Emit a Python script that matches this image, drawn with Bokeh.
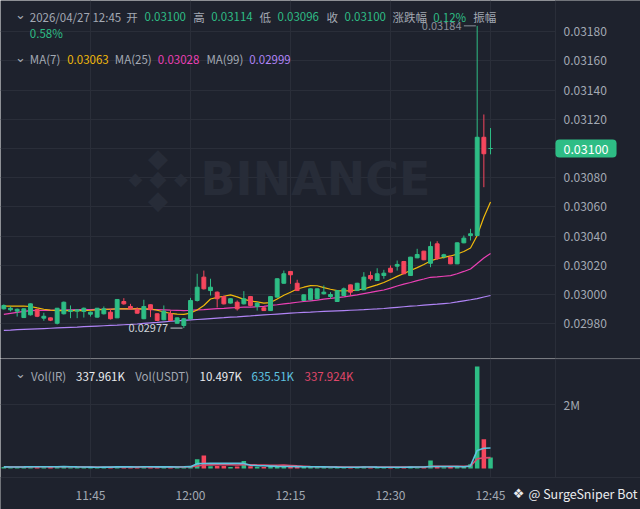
import pandas as pd
from bokeh.plotting import figure
from bokeh.layouts import column
from bokeh.models import ColumnDataSource, Range1d, FixedTicker, Label, Span, BoxAnnotation
from bokeh.embed import file_html
from bokeh.resources import INLINE
from bokeh.core.properties import value

# ---------------- data ----------------
times = [t.strftime("%H:%M") for t in pd.date_range("2026-04-27 11:32", periods=74, freq="min")]
date_str = "2026/04/27"
tick_labels = ["11:45", "12:00", "12:15", "12:30", "12:45"]
price_ticks = [0.0298, 0.0300, 0.0302, 0.0304, 0.0306, 0.0308, 0.0310, 0.0312, 0.0314, 0.0316, 0.0318]
vol_ticks = [2000]
vol_tick_labels = ["2M"]

opens = [0.029902, 0.029895, 0.029886, 0.029842, 0.029861, 0.029897, 0.029838, 0.029840, 0.029803, 0.029868,
         0.029884, 0.029886, 0.029884, 0.029865, 0.029845, 0.029868, 0.029879, 0.029840, 0.029952, 0.029918,
         0.029897, 0.029834, 0.029930, 0.029868, 0.029827, 0.029868, 0.029803, 0.029788, 0.029834, 0.029959,
         0.030119, 0.030027, 0.030016, 0.029986, 0.029941, 0.029947, 0.029936, 0.029986, 0.029918, 0.029909,
         0.029890, 0.029982, 0.030077, 0.030158, 0.030077, 0.029959, 0.029964, 0.029971, 0.030005, 0.029986,
         0.029952, 0.029993, 0.030066, 0.030027, 0.030032, 0.030130, 0.030096, 0.030130, 0.030180, 0.030194,
         0.030226, 0.030130, 0.030251, 0.030297, 0.030214, 0.030347, 0.030260, 0.030256, 0.030210, 0.030354,
         0.030404, 0.030404, 0.031077, 0.031000]
highs = [0.029932, 0.029918, 0.029904, 0.029904, 0.029938, 0.029901, 0.029875, 0.029842, 0.029908, 0.029952,
         0.029925, 0.029897, 0.029911, 0.029884, 0.029908, 0.029918, 0.029902, 0.029968, 0.029975, 0.029936,
         0.029913, 0.029964, 0.029932, 0.029870, 0.029925, 0.029890, 0.029842, 0.029840, 0.029977, 0.030142,
         0.030164, 0.030108, 0.030021, 0.029993, 0.029973, 0.029959, 0.030023, 0.029990, 0.029947, 0.029914,
         0.029990, 0.030110, 0.030164, 0.030161, 0.030101, 0.030000, 0.030041, 0.030041, 0.030062, 0.030016,
         0.030030, 0.030048, 0.030068, 0.030080, 0.030153, 0.030158, 0.030180, 0.030169, 0.030199, 0.030233,
         0.030230, 0.030258, 0.030313, 0.030299, 0.030363, 0.030365, 0.030279, 0.030258, 0.030356, 0.030404,
         0.030450, 0.031840, 0.031233, 0.031140]
lows = [0.029897, 0.029884, 0.029849, 0.029839, 0.029856, 0.029845, 0.029820, 0.029818, 0.029795, 0.029863,
        0.029838, 0.029838, 0.029842, 0.029849, 0.029842, 0.029863, 0.029829, 0.029839, 0.029930, 0.029899,
        0.029870, 0.029831, 0.029845, 0.029818, 0.029824, 0.029818, 0.029801, 0.029770, 0.029827, 0.029952,
        0.030034, 0.029993, 0.029911, 0.029932, 0.029938, 0.029890, 0.029932, 0.029918, 0.029890, 0.029887,
        0.029887, 0.029980, 0.030075, 0.030073, 0.030024, 0.029956, 0.029961, 0.029968, 0.030000, 0.029971,
        0.029950, 0.029990, 0.029993, 0.030024, 0.030030, 0.030096, 0.030093, 0.030108, 0.030151, 0.030164,
        0.030139, 0.030127, 0.030249, 0.030235, 0.030187, 0.030238, 0.030245, 0.030208, 0.030208, 0.030351,
        0.030370, 0.030402, 0.030735, 0.030960]
closes = [0.029925, 0.029906, 0.029899, 0.029902, 0.029936, 0.029851, 0.029851, 0.029824, 0.029906, 0.029947,
          0.029893, 0.029895, 0.029906, 0.029879, 0.029906, 0.029902, 0.029834, 0.029966, 0.029936, 0.029902,
          0.029872, 0.029918, 0.029897, 0.029822, 0.029886, 0.029822, 0.029840, 0.029834, 0.029959, 0.030050,
          0.030039, 0.030050, 0.029971, 0.029936, 0.029971, 0.029902, 0.029971, 0.029925, 0.029941, 0.029890,
          0.029986, 0.030108, 0.030142, 0.030135, 0.030027, 0.029998, 0.030039, 0.030039, 0.030016, 0.030000,
          0.030027, 0.030039, 0.030016, 0.030077, 0.030119, 0.030108, 0.030142, 0.030146, 0.030153, 0.030206,
          0.030142, 0.030256, 0.030274, 0.030238, 0.030329, 0.030245, 0.030272, 0.030210, 0.030354, 0.030386,
          0.030416, 0.031077, 0.030964, 0.031000]

ma7 = [0.029920, 0.029920, 0.029920, 0.029920, 0.029918, 0.029908, 0.029899, 0.029893, 0.029890, 0.029890,
       0.029890, 0.029890, 0.029890, 0.029892, 0.029895, 0.029898, 0.029899, 0.029901, 0.029901, 0.029902,
       0.029902, 0.029902, 0.029902, 0.029892, 0.029880, 0.029871, 0.029865, 0.029864, 0.029873, 0.029894,
       0.029925, 0.029969, 0.029980, 0.029988, 0.029997, 0.029984, 0.029967, 0.029956, 0.029949, 0.029941,
       0.029945, 0.029969, 0.029995, 0.030015, 0.030038, 0.030050, 0.030061, 0.030060, 0.030047, 0.030036,
       0.030027, 0.030024, 0.030027, 0.030031, 0.030038, 0.030052, 0.030066, 0.030082, 0.030103, 0.030124,
       0.030144, 0.030164, 0.030184, 0.030206, 0.030230, 0.030245, 0.030254, 0.030264, 0.030277, 0.030295,
       0.030319, 0.030404, 0.030529, 0.030634]
ma25 = [0.029864, 0.029871, 0.029878, 0.029884, 0.029890, 0.029891, 0.029892, 0.029892, 0.029894, 0.029895,
        0.029895, 0.029896, 0.029897, 0.029897, 0.029898, 0.029899, 0.029900, 0.029901, 0.029901, 0.029902,
        0.029901, 0.029899, 0.029897, 0.029896, 0.029895, 0.029893, 0.029892, 0.029890, 0.029892, 0.029895,
        0.029897, 0.029900, 0.029903, 0.029905, 0.029908, 0.029911, 0.029913, 0.029914, 0.029916, 0.029919,
        0.029925, 0.029930, 0.029936, 0.029941, 0.029947, 0.029952, 0.029957, 0.029962, 0.029968, 0.029973,
        0.029979, 0.029984, 0.029991, 0.029998, 0.030006, 0.030014, 0.030023, 0.030031, 0.030044, 0.030058,
        0.030071, 0.030082, 0.030095, 0.030106, 0.030118, 0.030121, 0.030125, 0.030129, 0.030142, 0.030158,
        0.030175, 0.030212, 0.030250, 0.030281]
ma99 = [0.029754, 0.029756, 0.029759, 0.029761, 0.029763, 0.029765, 0.029767, 0.029769, 0.029771, 0.029773,
        0.029775, 0.029777, 0.029780, 0.029782, 0.029784, 0.029786, 0.029788, 0.029790, 0.029793, 0.029795,
        0.029798, 0.029802, 0.029806, 0.029809, 0.029813, 0.029817, 0.029820, 0.029823, 0.029826, 0.029829,
        0.029832, 0.029835, 0.029838, 0.029841, 0.029845, 0.029847, 0.029850, 0.029853, 0.029857, 0.029860,
        0.029863, 0.029866, 0.029869, 0.029872, 0.029875, 0.029877, 0.029879, 0.029882, 0.029884, 0.029886,
        0.029888, 0.029890, 0.029892, 0.029894, 0.029896, 0.029899, 0.029901, 0.029904, 0.029908, 0.029912,
        0.029916, 0.029920, 0.029923, 0.029927, 0.029931, 0.029934, 0.029938, 0.029942, 0.029949, 0.029957,
        0.029964, 0.029972, 0.029983, 0.029993]

# volumes in thousands of IR
volumes = [45, 35, 50, 60, 55, 70, 40, 45, 80, 60,
           40, 35, 50, 30, 45, 40, 55, 75, 35, 40,
           50, 60, 45, 55, 50, 45, 40, 70, 80, 290,
           406, 70, 80, 75, 50, 65, 229, 70, 45, 50,
           70, 85, 60, 55, 50, 45, 60, 55, 35, 30,
           50, 40, 45, 35, 60, 40, 45, 30, 40, 35,
           55, 60, 40, 45, 250, 55, 35, 45, 60, 70,
           130, 3160, 910, 337.961]
vol_ma5 = [50, 48, 47, 49, 52, 55, 56, 52, 54, 57,
           55, 50, 46, 44, 40, 42, 43, 50, 50, 49,
           48, 52, 53, 51, 51, 51, 48, 52, 57, 150,
           155, 158, 158, 158, 158, 158, 158, 100, 90, 85,
           75, 65, 60, 60, 58, 55, 55, 52, 50, 45,
           42, 40, 40, 40, 45, 45, 42, 40, 38, 38,
           40, 44, 45, 45, 60, 62, 62, 62, 62, 55,
           80, 560, 630, 635.51]
vol_ma10 = [52, 51, 50, 50, 51, 52, 53, 54, 53, 52,
            52, 53, 52, 50, 48, 47, 46, 47, 48, 48,
            49, 50, 50, 51, 50, 50, 49, 50, 52, 75,
            110, 112, 114, 115, 116, 110, 120, 118, 110, 105,
            100, 100, 105, 95, 80, 70, 60, 55, 52, 50,
            50, 48, 47, 45, 46, 45, 45, 44, 43, 42,
            42, 44, 45, 45, 65, 66, 66, 66, 66, 66,
            70, 300, 330, 337.924]
vol_usdt_last = 10.497

# ---------------- style ----------------
BG = "#1e222d"
GRID = "#2a2e39"
UP = "#2ebd85"
DOWN = "#f6465d"
LBL = "#a3a9b3"
WHITE = "#eaecef"
C_MA7 = "#f0b90b"
C_MA25 = "#eb40b5"
C_MA99 = "#b084f6"
C_VMA5 = "#5ec4e0"
C_VMA10 = "#e0476a"
FONT = "Noto Sans CJK SC"
W = 640
H_PRICE = 358
H_VOL = 151


# pixel-layout helpers (page pixels -> data units)
def kx(px):
    return (px - 3.33) / 6.667


def py(px):
    return 0.031 - (px - 148) * 6.849e-6


def vy(px):
    return (468 - px) * 2000 / 64.5


n = len(closes)
xs = list(range(n))
colors = [UP if c >= o else DOWN for o, c in zip(opens, closes)]
src = ColumnDataSource(dict(
    x=xs, t=times, open=opens, high=highs, low=lows, close=closes,
    top=[max(o, c) for o, c in zip(opens, closes)],
    bottom=[min(o, c) for o, c in zip(opens, closes)],
    color=colors, ma7=ma7, ma25=ma25, ma99=ma99,
    vol=volumes, vma5=vol_ma5, vma10=vol_ma10,
))
tick_pos = [times.index(t) for t in tick_labels]
x_range = Range1d(kx(0), kx(W))
AXIS_X = kx(555)
LABEL_X = kx(563)


def screen_label(fig, text, sx, sy, color, size="11.5px", font=FONT, align="left", style="normal"):
    fig.add_layout(Label(x=sx, y=sy, x_units="screen", y_units="screen", text=text,
                         text_color=color, text_font=font, text_font_size=size,
                         text_align=align, text_baseline="middle", text_font_style=style))


# ---------------- price pane ----------------
p = figure(width=W, height=H_PRICE, x_range=x_range, y_range=Range1d(py(H_PRICE), py(0)),
           output_backend="svg", toolbar_location=None, x_axis_location=None,
           y_axis_location=None, min_border=0,
           background_fill_color=BG, border_fill_color=BG, outline_line_color=None)
p.xgrid.ticker = FixedTicker(ticks=tick_pos)
p.ygrid.ticker = FixedTicker(ticks=price_ticks)
for g in (p.xgrid, p.ygrid):
    g.grid_line_color = GRID
    g.grid_line_width = 1
# axis strip on the right
p.add_layout(BoxAnnotation(left=AXIS_X, fill_color=BG, fill_alpha=1.0, line_color=None, level="underlay"))
p.add_layout(Span(location=AXIS_X, dimension="height", line_color=GRID, line_width=1))
p.text(x=[LABEL_X] * len(price_ticks), y=price_ticks, text=[f"{t:.5f}" for t in price_ticks],
       text_align="left", text_baseline="middle", text_font=value(FONT),
       text_font_size="12px", text_color=LBL)

# watermark
WM = "#272c38"
screen_label(p, "BINANCE", 200, H_PRICE - 178, WM, size="46px", font="DejaVu Sans", style="bold")
screen_label(p, "◆", 157.5, H_PRICE - 178, WM, size="22px", font="DejaVu Sans", align="center")
screen_label(p, "◆", 135, H_PRICE - 178, WM, size="18px", font="DejaVu Sans", align="center")
screen_label(p, "◆", 180.5, H_PRICE - 178, WM, size="18px", font="DejaVu Sans", align="center")
screen_label(p, "◆", 157.5, H_PRICE - 157, WM, size="26px", font="DejaVu Sans", align="center")
screen_label(p, "◆", 157.5, H_PRICE - 199, WM, size="26px", font="DejaVu Sans", align="center")

# moving averages
p.line("x", "ma99", source=src, color=C_MA99, line_width=1.2)
p.line("x", "ma25", source=src, color=C_MA25, line_width=1.2)
p.line("x", "ma7", source=src, color=C_MA7, line_width=1.2)

# candles
p.segment(x0="x", y0="low", x1="x", y1="high", source=src, color="color", line_width=1)
p.vbar(x="x", top="top", bottom="bottom", width=0.58, source=src,
       fill_color="color", line_color="color", line_width=1)

# max / min markers
i_hi = highs.index(max(highs))
i_lo = lows.index(min(lows))
p.segment(x0=[i_hi - 2.0, i_lo - 2.0], y0=[highs[i_hi], lows[i_lo]],
          x1=[i_hi - 0.2, i_lo - 0.2], y1=[highs[i_hi], lows[i_lo]],
          color=["#8a909a", "#c9cdd3"], line_width=1)
p.text(x=[i_hi - 2.35, i_lo - 2.35], y=[highs[i_hi], lows[i_lo]],
       text=[f"{highs[i_hi]:.5f}", f"{lows[i_lo]:.5f}"], text_align="right",
       text_baseline="middle", text_font=value(FONT), text_font_size="11px",
       text_color=["#8a909a", "#d0d4da"])

# header texts
H1, H2, H3 = H_PRICE - 16, H_PRICE - 32.3, H_PRICE - 58.7
CHEV = "⌄"
screen_label(p, CHEV, 20, H1 + 2, LBL, size="13px", font="DejaVu Sans", align="center")
pct = (closes[-1] - closes[-2]) / closes[-2] * 100
amp = (highs[-1] - lows[-1]) / closes[-2] * 100
hdr = [
    (f"{date_str} {times[-1]}", 29.3, LBL),
    ("开", 125.7, LBL), (f"{opens[-1]:.5f}", 144, UP),
    ("高", 192.7, LBL), (f"{highs[-1]:.5f}", 210.7, UP),
    ("低", 259, LBL), (f"{lows[-1]:.5f}", 277, UP),
    ("收", 326, LBL), (f"{closes[-1]:.5f}", 344, UP),
    ("涨跌幅", 392, LBL), (f"{pct:.2f}%", 432.7, UP),
    ("振幅", 472.7, LBL),
]
for t, sx, c in hdr:
    screen_label(p, t, sx, H1, c)
screen_label(p, f"{amp:.2f}%", 29.3, H2, UP)

screen_label(p, CHEV, 20, H3 + 2, LBL, size="13px", font="DejaVu Sans", align="center")
mah = [("MA(7)", 29.3, LBL), (f"{ma7[-1]:.5f}", 66.7, C_MA7),
       ("MA(25)", 114.3, LBL), (f"{ma25[-1]:.5f}", 157.3, C_MA25),
       ("MA(99)", 206, LBL), (f"{ma99[-1]:.5f}", 248.7, C_MA99)]
for t, sx, c in mah:
    screen_label(p, t, sx, H3, c)

# current price tag on the axis strip
p.add_layout(Label(x=kx(585.5), y=closes[-1], x_units="data", y_units="data",
                   text=f"{closes[-1]:.5f}", text_color="#ffffff", text_font=FONT,
                   text_font_size="12.5px", text_align="center", text_baseline="middle",
                   background_fill_color=UP, background_fill_alpha=1.0,
                   padding=dict(left=8, right=8, top=4, bottom=4), border_radius=4))

# ---------------- volume pane ----------------
v = figure(width=W, height=H_VOL, x_range=x_range, y_range=Range1d(vy(H_PRICE + H_VOL), vy(H_PRICE)),
           output_backend="svg", toolbar_location=None, x_axis_location=None,
           y_axis_location=None, min_border=0,
           background_fill_color=BG, border_fill_color=BG, outline_line_color=None)
v.xgrid.ticker = FixedTicker(ticks=tick_pos)
v.ygrid.ticker = FixedTicker(ticks=vol_ticks)
for g in (v.xgrid, v.ygrid):
    g.grid_line_color = GRID
    g.grid_line_width = 1
TIME_TOP = vy(477)
v.add_layout(BoxAnnotation(left=AXIS_X, fill_color=BG, fill_alpha=1.0, line_color=None, level="underlay"))
v.add_layout(BoxAnnotation(top=TIME_TOP, fill_color=BG, fill_alpha=1.0, line_color=None, level="underlay"))
v.add_layout(Span(location=TIME_TOP, dimension="width", line_color=GRID, line_width=1))
v.add_layout(Span(location=vy(358.6), dimension="width", line_color=GRID, line_width=1))
v.segment(x0=[AXIS_X], y0=[TIME_TOP], x1=[AXIS_X], y1=[vy(H_PRICE)], color=GRID, line_width=1)

v.text(x=[LABEL_X] * len(vol_ticks), y=vol_ticks, text=vol_tick_labels,
       text_align="left", text_baseline="middle", text_font=value(FONT),
       text_font_size="12px", text_color=LBL)
v.text(x=tick_pos, y=[vy(494)] * len(tick_pos), text=tick_labels,
       text_align="center", text_baseline="middle", text_font=value(FONT),
       text_font_size="12px", text_color=LBL)

v.vbar(x="x", top="vol", bottom=0, width=0.68, source=src, fill_color="color", line_color=None)
v.line("x", "vma10", source=src, color=C_VMA10, line_width=1.6)
v.line("x", "vma5", source=src, color=C_VMA5, line_width=1.6)

VH = H_PRICE + H_VOL - 375
screen_label(v, CHEV, 20, VH + 2, LBL, size="13px", font="DejaVu Sans", align="center")
vh = [("Vol(IR)", 30.6, LBL), (f"{volumes[-1]:.3f}K", 75.5, WHITE),
      ("Vol(USDT)", 134.7, LBL), (f"{vol_usdt_last:.3f}K", 199, WHITE),
      (f"{vol_ma5[-1]:.2f}K", 251, C_VMA5), (f"{vol_ma10[-1]:.3f}K", 304, C_VMA10)]
for t, sx, c in vh:
    screen_label(v, t, sx, VH, c)

WMY = H_PRICE + H_VOL - 493
screen_label(v, "❖", 518, WMY, WHITE, size="13px", font="DejaVu Sans", align="center")
screen_label(v, "@ SurgeSniper Bot", 528, WMY, WHITE, size="12.5px")

layout = column(p, v, spacing=0)
open("out.html", "w").write(file_html(layout, INLINE))
